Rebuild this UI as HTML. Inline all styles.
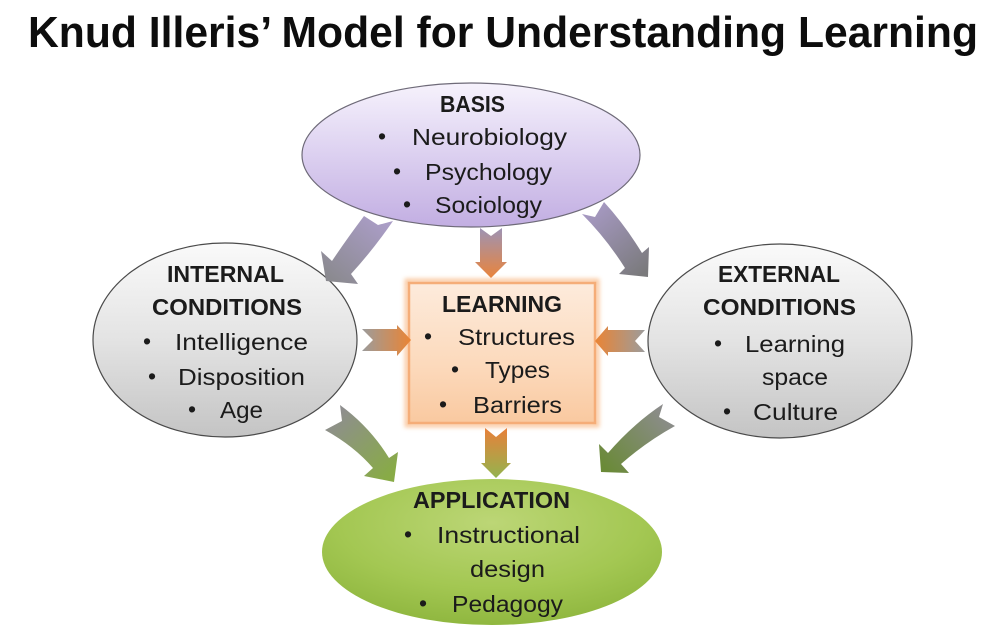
<!DOCTYPE html>
<html>
<head>
<meta charset="utf-8">
<style>
html,body{margin:0;padding:0;background:#ffffff;}
body{width:994px;height:636px;overflow:hidden;}
svg{display:block;}
text{font-family:"Liberation Sans",sans-serif;fill:#1b1b1b;}
.b{font-weight:bold;font-size:23px;}
.t{font-size:23px;}
.d{font-size:23px;text-anchor:middle;}
</style>
</head>
<body>
<svg width="994" height="636" viewBox="0 0 994 636" xmlns="http://www.w3.org/2000/svg">
<defs>
  <linearGradient id="gBasis" x1="0" y1="0" x2="0" y2="1">
    <stop offset="0" stop-color="#f6f2fc"/>
    <stop offset="0.5" stop-color="#dcd0f0"/>
    <stop offset="1" stop-color="#c2aee2"/>
  </linearGradient>
  <linearGradient id="gGray" x1="0" y1="0" x2="0" y2="1">
    <stop offset="0" stop-color="#fafafa"/>
    <stop offset="0.5" stop-color="#e3e3e3"/>
    <stop offset="1" stop-color="#c4c4c4"/>
  </linearGradient>
  <radialGradient id="gGreen" cx="0.5" cy="0.3" r="0.75">
    <stop offset="0" stop-color="#bcd676"/>
    <stop offset="0.6" stop-color="#a3c752"/>
    <stop offset="1" stop-color="#8cb43c"/>
  </radialGradient>
  <linearGradient id="gLearn" x1="0" y1="0" x2="0" y2="1">
    <stop offset="0" stop-color="#fdebdc"/>
    <stop offset="0.6" stop-color="#fcd9bb"/>
    <stop offset="1" stop-color="#f9c9a0"/>
  </linearGradient>
  <filter id="glow" x="-20%" y="-20%" width="140%" height="140%">
    <feGaussianBlur stdDeviation="2"/>
  </filter>
  <linearGradient id="a1" gradientUnits="userSpaceOnUse" x1="378" y1="218" x2="330" y2="278">
    <stop offset="0" stop-color="#aa9dc6"/>
    <stop offset="1" stop-color="#8b8a90"/>
  </linearGradient>
  <linearGradient id="a3" gradientUnits="userSpaceOnUse" x1="593" y1="208" x2="645" y2="272">
    <stop offset="0" stop-color="#a699c2"/>
    <stop offset="1" stop-color="#7a7a7c"/>
  </linearGradient>
  <linearGradient id="a6" gradientUnits="userSpaceOnUse" x1="335" y1="415" x2="390" y2="475">
    <stop offset="0" stop-color="#8e8e8e"/>
    <stop offset="1" stop-color="#88ab46"/>
  </linearGradient>
  <linearGradient id="a8" gradientUnits="userSpaceOnUse" x1="667" y1="414" x2="605" y2="468">
    <stop offset="0" stop-color="#8c8c8c"/>
    <stop offset="1" stop-color="#6a8a38"/>
  </linearGradient>
  <linearGradient id="a2" gradientUnits="userSpaceOnUse" x1="0" y1="228" x2="0" y2="278">
    <stop offset="0" stop-color="#9d93b4"/>
    <stop offset="1" stop-color="#e9843c"/>
  </linearGradient>
  <linearGradient id="a7" gradientUnits="userSpaceOnUse" x1="0" y1="428" x2="0" y2="478">
    <stop offset="0" stop-color="#e8803a"/>
    <stop offset="1" stop-color="#94b44e"/>
  </linearGradient>
  <linearGradient id="a4" gradientUnits="userSpaceOnUse" x1="362" y1="0" x2="411" y2="0">
    <stop offset="0" stop-color="#9c9c9c"/>
    <stop offset="1" stop-color="#ea8434"/>
  </linearGradient>
  <linearGradient id="a5" gradientUnits="userSpaceOnUse" x1="645" y1="0" x2="595" y2="0">
    <stop offset="0" stop-color="#9c9c9c"/>
    <stop offset="1" stop-color="#ea8434"/>
  </linearGradient>
</defs>

<!-- Title -->
<text x="28" y="47" font-size="44" font-weight="bold" textLength="950" lengthAdjust="spacingAndGlyphs" style="fill:#0d0d0d">Knud Illeris’ Model for Understanding Learning</text>

<!-- Ellipses -->
<ellipse cx="471" cy="155" rx="169" ry="72" fill="url(#gBasis)" stroke="#6e6a78" stroke-width="1.2"/>
<ellipse cx="225" cy="340" rx="132" ry="97" fill="url(#gGray)" stroke="#4a4a4a" stroke-width="1.2"/>
<ellipse cx="780" cy="341" rx="132" ry="97" fill="url(#gGray)" stroke="#4a4a4a" stroke-width="1.2"/>
<ellipse cx="492" cy="552" rx="170" ry="73" fill="url(#gGreen)"/>

<!-- Learning box -->
<rect x="407" y="281" width="190" height="144" fill="none" stroke="#f7a868" stroke-width="5" filter="url(#glow)" opacity="0.6"/>
<rect x="409" y="283" width="186" height="140" fill="url(#gLearn)" stroke="#f5ad78" stroke-width="2.5"/>

<!-- Arrows -->
<path d="M364,216 L378,225 L393,221 Q373,250 351,274 L358,284 L326,281 L321,251 L332,261 Q346,240 364,216 Z" fill="url(#a1)"/>
<path d="M582,214 L595,217 L604,202 Q625,225 642,253 L649,247 L648,277 L619,274 L625,268 Q606,238 582,214 Z" fill="url(#a3)"/>
<path d="M340,405 Q370,427 389,458 L398,452 L394,482 L364,476 L373,468 Q354,446 325,430 L342,421 Z" fill="url(#a6)"/>
<path d="M663,404 L659,417 L675,426 Q646,442 621,464 L629,473 L601,472 L599,444 L608,453 Q633,424 663,404 Z" fill="url(#a8)"/>
<path d="M480,228 L491,236 L502,228 L502,262 L507,262 L491,278 L475,262 L480,262 Z" fill="url(#a2)"/>
<path d="M485,428 L496,437 L507,428 L507,463 L511,463 L496,478 L481,463 L485,463 Z" fill="url(#a7)"/>
<path d="M362,329 L373,340 L362,351 L397,351 L397,356 L411,340 L397,325 L397,329 Z" fill="url(#a4)"/>
<path d="M645,330 L635,341 L645,352 L608,352 L608,356 L595,341 L608,326 L608,330 Z" fill="url(#a5)"/>

<!-- BASIS text -->
<text class="b" x="440" y="112" textLength="65" lengthAdjust="spacingAndGlyphs">BASIS</text>
<text class="d" x="382" y="144">•</text>
<text class="t" x="412" y="145" textLength="155" lengthAdjust="spacingAndGlyphs">Neurobiology</text>
<text class="d" x="397" y="179">•</text>
<text class="t" x="425" y="180" textLength="127" lengthAdjust="spacingAndGlyphs">Psychology</text>
<text class="d" x="407" y="212">•</text>
<text class="t" x="435" y="213" textLength="107" lengthAdjust="spacingAndGlyphs">Sociology</text>

<!-- INTERNAL text -->
<text class="b" x="167" y="282" textLength="117" lengthAdjust="spacingAndGlyphs">INTERNAL</text>
<text class="b" x="152" y="315" textLength="150" lengthAdjust="spacingAndGlyphs">CONDITIONS</text>
<text class="d" x="147" y="349">•</text>
<text class="t" x="175" y="350" textLength="133" lengthAdjust="spacingAndGlyphs">Intelligence</text>
<text class="d" x="152" y="384">•</text>
<text class="t" x="178" y="385" textLength="127" lengthAdjust="spacingAndGlyphs">Disposition</text>
<text class="d" x="192" y="417">•</text>
<text class="t" x="220" y="418" textLength="43" lengthAdjust="spacingAndGlyphs">Age</text>

<!-- EXTERNAL text -->
<text class="b" x="718" y="282" textLength="122" lengthAdjust="spacingAndGlyphs">EXTERNAL</text>
<text class="b" x="703" y="315" textLength="153" lengthAdjust="spacingAndGlyphs">CONDITIONS</text>
<text class="d" x="718" y="351">•</text>
<text class="t" x="745" y="352" textLength="100" lengthAdjust="spacingAndGlyphs">Learning</text>
<text class="t" x="762" y="385" textLength="66" lengthAdjust="spacingAndGlyphs">space</text>
<text class="d" x="727" y="419">•</text>
<text class="t" x="753" y="420" textLength="85" lengthAdjust="spacingAndGlyphs">Culture</text>

<!-- LEARNING text -->
<text class="b" x="442" y="312" textLength="120" lengthAdjust="spacingAndGlyphs">LEARNING</text>
<text class="d" x="428" y="344">•</text>
<text class="t" x="458" y="345" textLength="117" lengthAdjust="spacingAndGlyphs">Structures</text>
<text class="d" x="455" y="377">•</text>
<text class="t" x="485" y="378" textLength="65" lengthAdjust="spacingAndGlyphs">Types</text>
<text class="d" x="443" y="412">•</text>
<text class="t" x="473" y="413" textLength="89" lengthAdjust="spacingAndGlyphs">Barriers</text>

<!-- APPLICATION text -->
<text class="b" x="413" y="508" textLength="157" lengthAdjust="spacingAndGlyphs">APPLICATION</text>
<text class="d" x="408" y="542">•</text>
<text class="t" x="437" y="543" textLength="143" lengthAdjust="spacingAndGlyphs">Instructional</text>
<text class="t" x="470" y="577" textLength="75" lengthAdjust="spacingAndGlyphs">design</text>
<text class="d" x="423" y="611">•</text>
<text class="t" x="452" y="612" textLength="111" lengthAdjust="spacingAndGlyphs">Pedagogy</text>
</svg>
</body>
</html>
